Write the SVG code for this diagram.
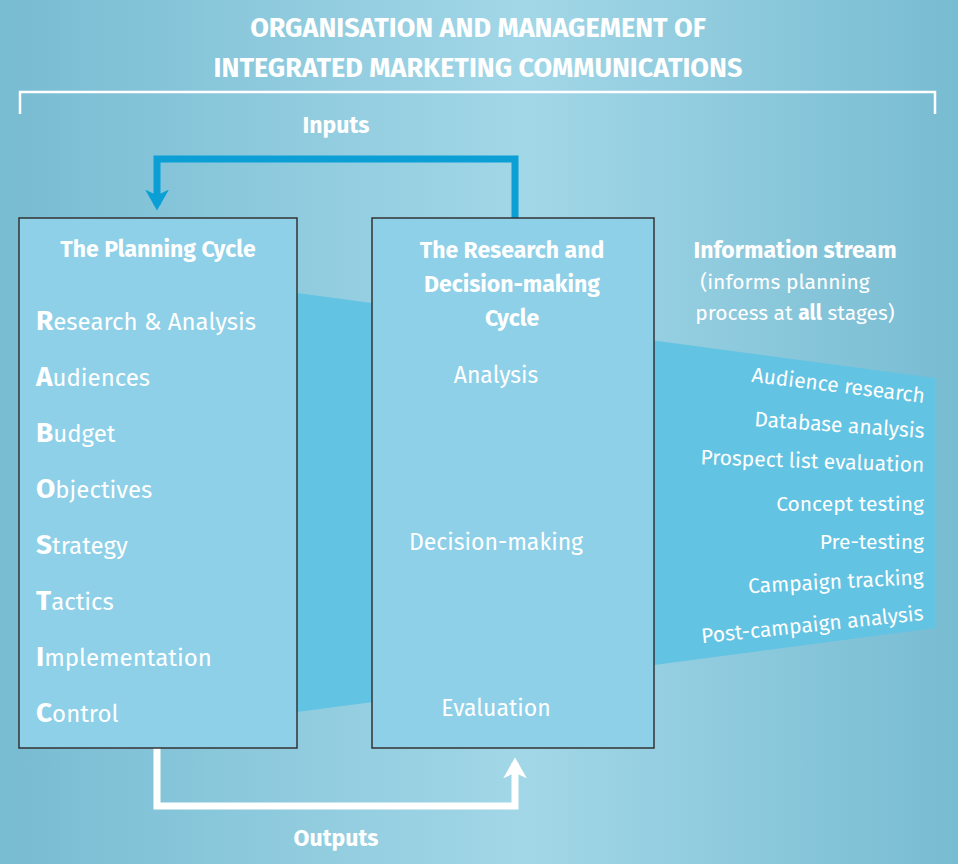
<svg xmlns="http://www.w3.org/2000/svg" width="958" height="864" viewBox="0 0 958 864">
<defs>
<linearGradient id="bg" x1="0" y1="0" x2="1" y2="0">
<stop offset="0" stop-color="#78bcd2"/><stop offset="0.55" stop-color="#a2d7e7"/><stop offset="1" stop-color="#78bcd2"/>
</linearGradient>
<marker id="wa" markerWidth="4" markerHeight="4" refX="2.2" refY="2" orient="auto" markerUnits="strokeWidth"><path d="M0,0.3 L3,2 L0,3.7 L0.8,2 Z" fill="#fff"/></marker>
<marker id="ba" markerWidth="4" markerHeight="4" refX="2.2" refY="2" orient="auto" markerUnits="strokeWidth"><path d="M0,0.3 L3,2 L0,3.7 L0.8,2 Z" fill="#0b9fd6"/></marker>
</defs>
<style>
text{font-family:"Fira Sans","Open Sans","Liberation Sans",sans-serif;fill:#fff}
.h{font-weight:bold;font-size:23px;text-anchor:middle}
.t{font-weight:bold;font-size:27px;text-anchor:middle}
.l{font-size:24px}
.b{font-weight:bold;font-size:28px}
.s{font-size:21px;text-anchor:end}
.c{font-size:23px;text-anchor:middle}
.box{fill:#8dd0e8;stroke:#333;stroke-width:1.5}
</style>
<rect width="958" height="864" fill="url(#bg)"/>
<polygon points="297,293 935,378 935,628 297,712" fill="#63c3e2"/>
<text class="t" x="478" y="37">ORGANISATION AND MANAGEMENT OF</text>
<text class="t" x="478" y="77">INTEGRATED MARKETING COMMUNICATIONS</text>
<path d="M20,114 V92 H935 V114" fill="none" stroke="#fff" stroke-width="2.5"/>
<text class="h" x="336" y="133">Inputs</text>
<text class="h" x="336" y="846">Outputs</text>
<g id="connectors" fill="none">
<path d="M515,218 V159 H157 V205" stroke="#0b9fd6" stroke-width="7" marker-end="url(#ba)"/>
<path d="M157,748 V806 H515 V763" stroke="#fff" stroke-width="7" marker-end="url(#wa)"/>
<path d="M493,398 V505" stroke="#fff" stroke-width="4" marker-end="url(#wa)"/>
<path d="M493,565 V672" stroke="#fff" stroke-width="4" marker-end="url(#wa)"/>
<path d="M568,710 H623 V372 H571" stroke="#fff" stroke-width="4" marker-end="url(#wa)"/>
</g>
<g id="planning">
<rect class="box" x="19" y="218" width="278" height="530"/>
<text class="h" x="158" y="257">The Planning Cycle</text>
<text class="l" x="36" y="330"><tspan class="b">R</tspan>esearch &amp; Analysis</text>
<text class="l" x="36" y="386"><tspan class="b">A</tspan>udiences</text>
<text class="l" x="36" y="442"><tspan class="b">B</tspan>udget</text>
<text class="l" x="36" y="498"><tspan class="b">O</tspan>bjectives</text>
<text class="l" x="36" y="554"><tspan class="b">S</tspan>trategy</text>
<text class="l" x="36" y="610"><tspan class="b">T</tspan>actics</text>
<text class="l" x="36" y="666"><tspan class="b">I</tspan>mplementation</text>
<text class="l" x="36" y="722"><tspan class="b">C</tspan>ontrol</text>
</g>
<g id="research">
<rect class="box" x="372" y="218" width="282" height="530"/>
<text class="h" x="512" y="258">The Research and</text>
<text class="h" x="512" y="292">Decision-making</text>
<text class="h" x="512" y="326">Cycle</text>
<text class="c" x="496" y="383">Analysis</text>
<text class="c" x="496" y="550">Decision-making</text>
<text class="c" x="496" y="716">Evaluation</text>
</g>
<g id="info">
<text class="h" x="795" y="258">Information stream</text>
<text class="c" x="785" y="289" style="font-size:21px">(informs planning</text>
<text class="c" x="795" y="320" style="font-size:21px">process at <tspan font-weight="bold">all</tspan> stages)</text>
<text class="s" transform="translate(924,403) rotate(7)">Audience research</text>
<text class="s" transform="translate(924,438) rotate(4)">Database analysis</text>
<text class="s" transform="translate(924,472) rotate(2)">Prospect list evaluation</text>
<text class="s" x="924" y="511">Concept testing</text>
<text class="s" x="924" y="549">Pre-testing</text>
<text class="s" transform="translate(924,584) rotate(-3)">Campaign tracking</text>
<text class="s" transform="translate(924,620) rotate(-6)">Post-campaign analysis</text>
</g>
</svg>
